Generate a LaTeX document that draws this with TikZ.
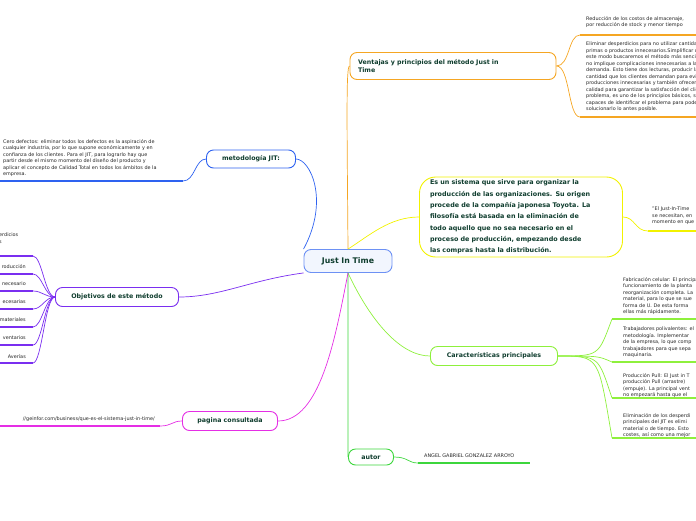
\documentclass[tikz,border=0pt]{standalone}
\usepackage{fontspec}
\setmainfont{DejaVu Sans}
\begin{document}
\begin{tikzpicture}[x=1pt,y=-1pt,
  box/.style={draw,rounded corners=7pt,line width=0.9pt,fill=white,font=\fontsize{6.3}{8}\selectfont\bfseries,inner sep=3pt},
  small/.style={font=\fontsize{4.9}{6.5}\selectfont,text=black!85,align=left,anchor=north west,inner sep=0pt},
  smallr/.style={font=\fontsize{4.9}{6.5}\selectfont,text=black!85,align=right,anchor=north east,inner sep=0pt},
  ul/.style={line width=1.3pt},
  cn/.style={line width=0.7pt}]
\useasboundingbox (0,0) rectangle (696,520);
\clip (0,0) rectangle (696,520);
\definecolor{cor}{HTML}{F5A623}
\definecolor{cyl}{HTML}{F2F200}
\definecolor{cgr}{HTML}{8EF03C}
\definecolor{cgg}{HTML}{3CD63C}
\definecolor{cbl}{HTML}{2E62F0}
\definecolor{cpu}{HTML}{7A2EF0}
\definecolor{cmg}{HTML}{E52EE5}
\definecolor{dtx}{HTML}{0F3D2E}
% central
\node[draw=cbl!70,fill=cbl!6,rounded corners=7pt,line width=0.9pt,minimum width=88pt,minimum height=23pt,font=\fontsize{7.8}{9}\selectfont\bfseries,text=dtx] (jit) at (348,261) {Just In Time};
% boxes
\node[box,draw=cor,minimum width=206pt,minimum height=27pt,text width=190pt,align=left,text=dtx] (vent) at (453,66) {Ventajas y principios del método Just in\\Time};
\node[box,draw=cyl,rounded corners=16pt,minimum width=203pt,minimum height=70pt,text width=182pt,align=left,text=dtx,font=\fontsize{6.4}{11.3}\selectfont\bfseries] (def) at (521,217) {Es un sistema que sirve para organizar la\\producción de las organizaciones. Su origen\\procede de la compañía japonesa Toyota. La\\filosofía está basada en la eliminación de\\todo aquello que no sea necesario en el\\proceso de producción, empezando desde\\las compras hasta la distribución.};
\node[box,draw=cgr,minimum width=127pt,minimum height=19pt,text=dtx] (car) at (494,356) {Características principales};
\node[box,draw=cgg,minimum width=45pt,minimum height=16pt,text=dtx] (aut) at (371,457) {autor};
\node[box,draw=cmg,minimum width=95pt,minimum height=19pt,text=dtx] (pag) at (230,421) {pagina consultada};
\node[box,draw=cpu,minimum width=123pt,minimum height=19pt,text=dtx] (obj) at (117,297) {Objetivos de este método};
\node[box,draw=cbl,minimum width=89pt,minimum height=18pt,text=dtx] (met) at (251,159) {metodología JIT:};
% main connectors
\draw[cn,cor] (jit.north) .. controls (347,120) and (346,66) .. (vent.west);
\draw[cn,cyl] (jit.north) .. controls (370,235) and (390,217) .. (def.west);
\draw[cn,cgr] (jit.south) .. controls (370,320) and (400,356) .. (car.west);
\draw[cn,cgg] (jit.south) .. controls (348,380) and (348,457) .. (aut.west);
\draw[cn,cmg] (jit.south) .. controls (335,340) and (320,421) .. (pag.east);
\draw[cn,cpu] (jit.south west) .. controls (250,280) and (220,297) .. (obj.east);
\draw[cn,cbl] (jit.north west) .. controls (330,200) and (310,159) .. (met.east);
% ventajas children
\coordinate (v1) at (580,35); \coordinate (v2) at (580,117);
\draw[cn,cor] (vent.east) .. controls (570,66) and (568,35) .. (v1);
\draw[cn,cor] (vent.east) .. controls (570,66) and (568,117) .. (v2);
\draw[ul,cor] (v1) -- (700,35); \draw[ul,cor] (v2) -- (700,117);
\node[small] at (586,16) {Reducción de los costos de almacenaje,\\por reducción de stock y menor tiempo};
\node[small] at (586,42) {Eliminar desperdicios para no utilizar cantidades\\primas o productos innecesarios.Simplificar de\\este modo buscaremos el método más sencillo que\\no implique complicaciones innecesarias a la\\demanda. Esto tiene dos lecturas, producir la\\cantidad que los clientes demandan para evitar\\producciones innecesarias y también ofrecer una\\calidad para garantizar la satisfacción del cliente\\problema, es uno de los principios básicos, ser\\capaces de identificar el problema para poder\\solucionarlo lo antes posible.};
% def child
\coordinate (d1) at (648,231);
\draw[cn,cyl] (def.east) .. controls (635,217) and (635,231) .. (d1);
\draw[ul,cyl] (d1) -- (700,231);
\node[small] at (652,207) {"El Just-In-Time\\se necesitan, en\\momento en que};
% caracteristicas children
\coordinate (c1) at (612,319); \coordinate (c2) at (612,362);
\coordinate (c3) at (612,398); \coordinate (c4) at (612,438);
\foreach \c in {c1,c2,c3,c4}{
  \draw[cn,cgr] (car.east) .. controls (600,356) and (598,356) .. (\c);
  \draw[ul,cgr] (\c) -- (700,0|-\c);}
\node[small] at (623,277) {Fabricación celular: El principal\\funcionamiento de la planta\\reorganización completa. La\\material, para lo que se sue\\forma de U. De esta forma\\ellas más rápidamente.};
\node[small] at (623,327) {Trabajadores polivalentes: el\\metodología. Implementar\\de la empresa, lo que comp\\trabajadores para que sepa\\maquinaria.};
\node[small] at (623,373) {Producción Pull: El Just in T\\producción Pull (arrastre)\\(empuje). La principal vent\\no empezará hasta que el};
\node[small] at (623,413) {Eliminación de los desperdi\\principales del JIT es elimi\\material o de tiempo. Esto\\costes, así como una mejor};
% autor child
\coordinate (a1) at (418,463);
\draw[cn,cgg] (aut.east) .. controls (408,457) and (408,463) .. (a1);
\draw[ul,cgg] (a1) -- (530,463);
\node[small] at (424,454) {ANGEL GABRIEL GONZALEZ ARROYO};
% pagina child
\coordinate (p1) at (160,426);
\draw[cn,cmg] (pag.west) .. controls (172,421) and (172,426) .. (p1);
\draw[ul,cmg] (p1) -- (-5,426);
\node[smallr] at (155,417) {//geinfor.com/business/que-es-el-sistema-just-in-time/};
% objetivos children
\foreach \y in {256,274,291,309,327,345,363}{
  \coordinate (o\y) at (33,\y);
  \draw[cn,cpu] (obj.west) .. controls (45,297) and (42,\y) .. (o\y);
  \draw[ul,cpu] (o\y) -- (-5,\y);}
\node[small,anchor=north west] at (-1,233) {erdicios\\s};
\node[smallr] at (26,264) {roducción};
\node[smallr] at (26,282) {necesario};
\node[smallr] at (26,300) {ecesarias};
\node[smallr] at (26,318) {materiales};
\node[smallr] at (26,336) {ventarios};
\node[smallr] at (26,354) {Averías};
% metodologia child
\coordinate (m1) at (183,181);
\draw[cn,cbl] (met.west) .. controls (195,159) and (195,181) .. (m1);
\draw[ul,cbl] (m1) -- (-5,181);
\node[small] at (3,139) {Cero defectos: eliminar todos los defectos es la aspiración de\\cualquier industria, por lo que supone económicamente y en\\confianza de los clientes. Para el JIT, para lograrlo hay que\\partir desde el mismo momento del diseño del producto y\\aplicar el concepto de Calidad Total en todos los ámbitos de la\\empresa.};
\end{tikzpicture}
\end{document}
